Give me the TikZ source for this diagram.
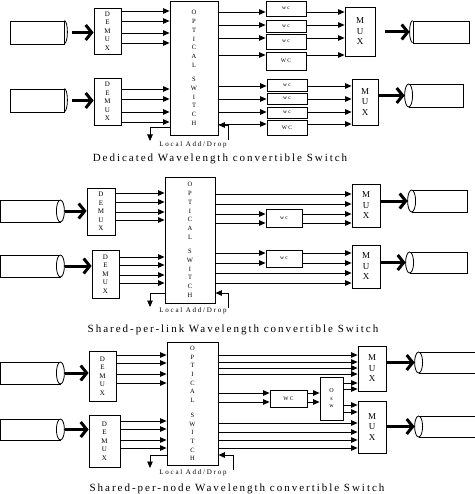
\documentclass[tikz,border=0pt]{standalone}
\usepackage{fontspec}
\setmainfont{Liberation Serif}
\newfontfamily\capfont[LetterSpace=18]{Liberation Serif}
\newfontfamily\lblfont[LetterSpace=25]{Liberation Serif}
\usetikzlibrary{arrows.meta}

\begin{document}
\begin{tikzpicture}[x=1pt, y=-1pt,
    box/.style={draw, line width=0.8pt, fill=white, inner sep=0pt, align=center},
    demux/.style={box, font=\fontsize{7}{8.5}\selectfont},
    switchbox/.style={box, font=\fontsize{6.5}{8.7}\selectfont},
    muxbox/.style={box, font=\fontsize{9}{10.5}\selectfont},
    wcbox/.style={box, font=\fontsize{5.5}{6}\selectfont},
    fiber/.style={draw, line width=0.8pt, fill=white, inner sep=0pt},
    fibercap/.style={draw, line width=0.8pt, fill=white},
    sig/.style={line width=0.9pt, -{Triangle[length=6.5pt,width=5.5pt]}},
    fat/.style={line width=3pt, -{Straight Barb[length=6pt,width=15pt]}},
    lbl/.style={font=\lblfont\fontsize{7}{8}\selectfont},
    captext/.style={font=\capfont\fontsize{11}{12}\selectfont}]
    \useasboundingbox (0,0) rectangle (474,494);

    % dedicated
    \node[demux, minimum width=27pt, minimum height=46pt] (dmA1) at (107.5,31) {D\\E\\M\\U\\X};
    \node[demux, minimum width=27pt, minimum height=47pt] (dmA2) at (107.5,101.5) {D\\E\\M\\U\\X};
    \node[switchbox, minimum width=48pt, minimum height=134pt] (swA) at (194,68) {O\\P\\T\\I\\C\\A\\L\\[6pt]S\\W\\I\\T\\C\\H};
    \node[wcbox, minimum width=40pt, minimum height=15pt] (wcA1) at (286,8.5) {w c};
    \node[wcbox, minimum width=40pt, minimum height=12pt] (wcA2) at (286,26) {w c};
    \node[wcbox, minimum width=40pt, minimum height=15pt] (wcA3) at (286,41.5) {w c};
    \node[wcbox, minimum width=40pt, minimum height=18pt] (wcA4) at (286,61) {W C};
    \node[wcbox, minimum width=40pt, minimum height=12pt] (wcA5) at (287,85) {w c};
    \node[wcbox, minimum width=40pt, minimum height=11pt] (wcA6) at (287,98.5) {w c};
    \node[wcbox, minimum width=40pt, minimum height=11pt] (wcA7) at (287,112.5) {w c};
    \node[wcbox, minimum width=40pt, minimum height=15pt] (wcA8) at (287,127.5) {W C};
    \node[muxbox, minimum width=30pt, minimum height=49pt] (muxA1) at (360,31.5) {M\\U\\X};
    \node[muxbox, minimum width=26pt, minimum height=46pt] (muxA2) at (365,102) {M\\U\\X};

    \node[fiber, minimum width=54pt, minimum height=23pt] (fA1) at (37,32.5) {};
    \draw[line width=0.8pt] (fA1.north east) arc[start angle=90, end angle=-90, x radius=3pt, y radius=11.5pt];
    \node[fiber, minimum width=54pt, minimum height=23pt] (fA2) at (37,100.5) {};
    \draw[line width=0.8pt] (fA2.north east) arc[start angle=90, end angle=-90, x radius=3pt, y radius=11.5pt];
    \node[fiber, minimum width=56pt, minimum height=22pt] (fA3) at (441,32) {};
    \draw[line width=0.8pt] (fA3.north west) arc[start angle=90, end angle=270, x radius=3pt, y radius=11pt];
    \node[fiber, minimum width=54pt, minimum height=23pt] (fA4) at (436,95.5) {};
    \draw[fibercap] (fA4.west) ellipse[x radius=4pt, y radius=11.5pt];

    \draw[fat, shorten <=8pt] (fA1.east) -- (dmA1.west |- fA1.east);
    \draw[fat, shorten <=8pt] (fA2.east) -- (dmA2.west |- fA2.east);
    \draw[fat, shorten <=10pt, shorten >=3pt] (muxA1.east |- fA3.west) -- (fA3.west);
    \draw[fat, shorten >=4pt] (muxA2.east |- fA4.west) -- (fA4.west);

    \foreach \y in {11,21,33,43} \draw[sig] (dmA1.east |- 0,\y) -- (swA.west |- 0,\y);
    \foreach \y in {89,99,112,122} \draw[sig] (dmA2.east |- 0,\y) -- (swA.west |- 0,\y);
    \foreach \y/\w in {12/wcA1,25/wcA2,38/wcA3,55/wcA4} {
        \draw[sig] (swA.east |- 0,\y) -- (\w.west |- 0,\y);
        \draw[sig] (\w.east |- 0,\y) -- (muxA1.west |- 0,\y);
    }
    \foreach \y/\w in {86/wcA5,99/wcA6,112/wcA7,124/wcA8} {
        \draw[sig] (swA.east |- 0,\y) -- (\w.west |- 0,\y);
        \draw[sig] (\w.east |- 0,\y) -- (muxA2.west |- 0,\y);
    }

    \coordinate (dropA) at (150,141);
    \coordinate (addA) at (228,140);
    \draw[sig] (swA.west |- 0,127) -| (dropA);
    \draw[sig] (addA) |- (swA.east |- 0,125);
    \node[lbl] (ladA) at (193,145) {Local Add/Drop};
    \node[captext] (capA) at (220,159) {Dedicated Wavelength convertible Switch};

    % shared per link
    \node[demux, minimum width=28pt, minimum height=47pt] (dmB1) at (101,211.5) {D\\E\\M\\U\\X};
    \node[demux, minimum width=27pt, minimum height=48pt] (dmB2) at (105.5,274) {D\\E\\M\\U\\X};
    \node[switchbox, minimum width=50pt, minimum height=126pt] (swB) at (190,240) {O\\P\\T\\I\\C\\A\\L\\[6pt]S\\W\\I\\T\\C\\H};
    \node[wcbox, minimum width=36pt, minimum height=18pt] (wcB1) at (284,218) {w c};
    \node[wcbox, minimum width=36pt, minimum height=17pt] (wcB2) at (284,258.5) {w c};
    \node[muxbox, minimum width=28pt, minimum height=43pt] (muxB1) at (366,205.5) {M\\U\\X};
    \node[muxbox, minimum width=28pt, minimum height=43pt] (muxB2) at (366,266.5) {M\\U\\X};

    \node[fiber, minimum width=60pt, minimum height=22pt] (fB1) at (30,211) {};
    \draw[fibercap] (fB1.east) ellipse[x radius=4pt, y radius=11pt];
    \node[fiber, minimum width=60pt, minimum height=22pt] (fB2) at (30,266) {};
    \draw[fibercap] (fB2.east) ellipse[x radius=4pt, y radius=11pt];
    \node[fiber, minimum width=55pt, minimum height=22pt] (fB3) at (439.5,201) {};
    \draw[fibercap] (fB3.west) ellipse[x radius=4pt, y radius=11pt];
    \node[fiber, minimum width=57pt, minimum height=21pt] (fB4) at (438.5,262.5) {};
    \draw[fibercap] (fB4.west) ellipse[x radius=4pt, y radius=10.5pt];

    \draw[fat, shorten <=5pt] (fB1.east) -- (dmB1.west |- fB1.east);
    \draw[fat, shorten <=5pt] (fB2.east) -- (dmB2.west |- fB2.east);
    \draw[fat, shorten >=4pt] (muxB1.east |- fB3.west) -- (fB3.west);
    \draw[fat, shorten >=4pt] (muxB2.east |- fB4.west) -- (fB4.west);

    \foreach \y in {193,202,212,220} \draw[sig] (dmB1.east |- 0,\y) -- (swB.west |- 0,\y);
    \foreach \y in {257,265,275,283} \draw[sig] (dmB2.east |- 0,\y) -- (swB.west |- 0,\y);
    \foreach \y in {194,204} \draw[sig] (swB.east |- 0,\y) -- (muxB1.west |- 0,\y);
    \foreach \y in {214,223} {
        \draw[sig] (swB.east |- 0,\y) -- (wcB1.west |- 0,\y);
        \draw[sig] (wcB1.east |- 0,\y) -- (muxB1.west |- 0,\y);
    }
    \foreach \y in {253,263} {
        \draw[sig] (swB.east |- 0,\y) -- (wcB2.west |- 0,\y);
        \draw[sig] (wcB2.east |- 0,\y) -- (muxB2.west |- 0,\y);
    }
    \foreach \y in {273,283} \draw[sig] (swB.east |- 0,\y) -- (muxB2.west |- 0,\y);

    \coordinate (dropB) at (150,307);
    \coordinate (addB) at (228,308);
    \draw[sig] (swB.west |- 0,293) -| (dropB);
    \draw[sig] (addB) |- (swB.east |- 0,293);
    \node[lbl] (ladB) at (193,311) {Local Add/Drop};
    \node[captext] (capB) at (233,330) {Shared-per-link Wavelength convertible Switch};

    % shared per node
    \node[demux, minimum width=27pt, minimum height=50pt] (dmC1) at (102.5,376) {D\\E\\M\\U\\X};
    \node[demux, minimum width=31pt, minimum height=52pt] (dmC2) at (104.5,441) {D\\E\\M\\U\\X};
    \node[switchbox, minimum width=51pt, minimum height=123pt] (swC) at (192.5,403.5) {O\\P\\T\\I\\C\\A\\L\\[6pt]S\\W\\I\\T\\C\\H};
    \node[wcbox, minimum width=37pt, minimum height=17pt] (wcC) at (288.5,398.5) {W C};
    \node[box, font=\fontsize{6}{7.5}\selectfont, minimum width=23pt, minimum height=43pt] (oswC) at (331.5,398.5) {O\\s\\w};
    \node[muxbox, minimum width=28pt, minimum height=45pt] (muxC1) at (372,368.5) {M\\U\\X};
    \node[muxbox, minimum width=28pt, minimum height=52pt] (muxC2) at (372,427) {M\\U\\X};

    \node[fiber, minimum width=60pt, minimum height=22pt] (fC1) at (30,373) {};
    \draw[fibercap] (fC1.east) ellipse[x radius=4pt, y radius=11pt];
    \node[fiber, minimum width=60pt, minimum height=21pt] (fC2) at (30,429.5) {};
    \draw[fibercap] (fC2.east) ellipse[x radius=4pt, y radius=10.5pt];
    \node[fiber, minimum width=57pt, minimum height=21pt] (fC3) at (447.5,362.5) {};
    \draw[fibercap] (fC3.west) ellipse[x radius=4pt, y radius=10.5pt];
    \node[fiber, minimum width=57pt, minimum height=21pt] (fC4) at (447.5,426.5) {};
    \draw[fibercap] (fC4.west) ellipse[x radius=4pt, y radius=10.5pt];

    \draw[fat, shorten <=5pt] (fC1.east) -- (dmC1.west |- fC1.east);
    \draw[fat, shorten <=5pt] (fC2.east) -- (dmC2.west |- fC2.east);
    \draw[fat, shorten >=4pt] (muxC1.east |- fC3.west) -- (fC3.west);
    \draw[fat, shorten >=4pt] (muxC2.east |- fC4.west) -- (fC4.west);

    \foreach \y in {355,363,374,383} \draw[sig] (dmC1.east |- 0,\y) -- (swC.west |- 0,\y);
    \foreach \y in {421,429,440,448} \draw[sig] (dmC2.east |- 0,\y) -- (swC.west |- 0,\y);
    \foreach \y in {355,362,368,374} \draw[sig] (swC.east |- 0,\y) -- (muxC1.west |- 0,\y);
    \foreach \y in {393,402} {
        \draw[sig] (swC.east |- 0,\y) -- (wcC.west |- 0,\y);
        \draw[sig] (wcC.east |- 0,\y) -- (oswC.west |- 0,\y);
    }
    \foreach \y in {383,389} \draw[sig] (oswC.east |- 0,\y) -- (muxC1.west |- 0,\y);
    \foreach \y in {405,412} \draw[sig] (oswC.east |- 0,\y) -- (muxC2.west |- 0,\y);
    \foreach \y in {423,432,440,448} \draw[sig] (swC.east |- 0,\y) -- (muxC2.west |- 0,\y);

    \coordinate (dropC) at (150,468);
    \coordinate (addC) at (233,470);
    \draw[sig] (swC.west |- 0,455) -| (dropC);
    \draw[sig] (addC) |- (swC.east |- 0,455);
    \node[lbl] (ladC) at (193,473) {Local Add/Drop};
    \node[captext] (capC) at (237,489) {Shared-per-node Wavelength convertible Switch};
\end{tikzpicture}
\end{document}
